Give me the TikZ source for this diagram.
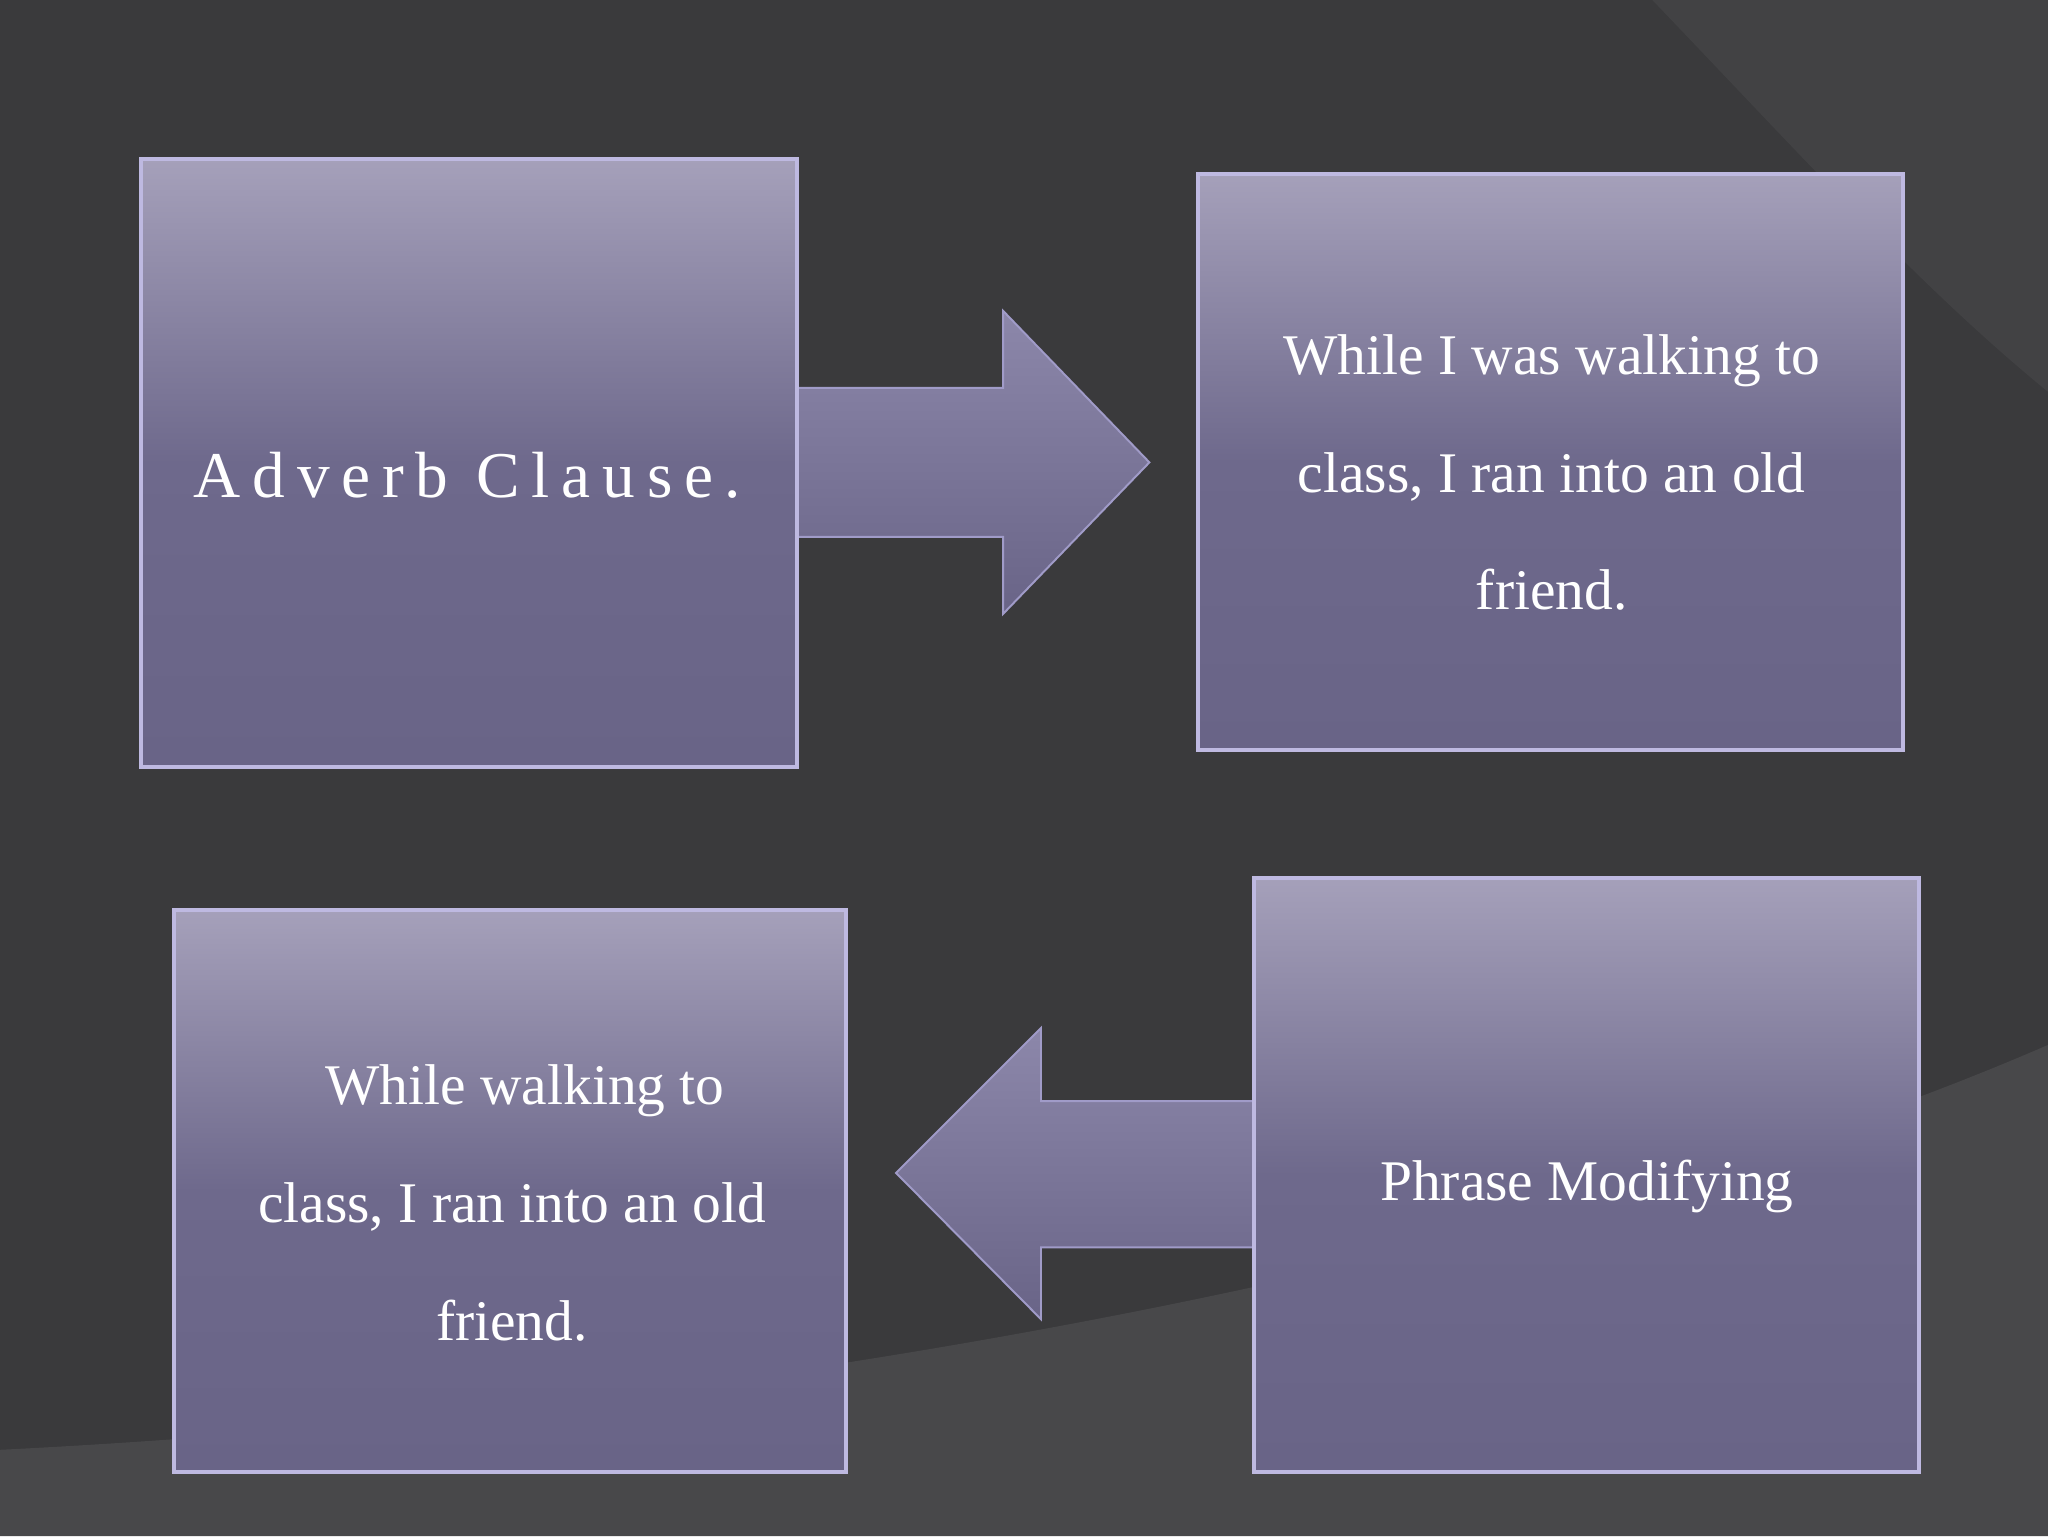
\documentclass[tikz,border=0pt]{standalone}
\usepackage{fontspec}
\setmainfont{Liberation Serif}
\begin{document}
\begin{tikzpicture}[x=1pt,y=-1pt,
  box/.style={draw=none,top color=#1!0!white,bottom color=white},
  txt/.style={text=white,align=center,font=\fontsize{44}{90}\selectfont}]
\useasboundingbox (0,0) rectangle (1568,1176);
\fill[fill={rgb,255:red,58;green,58;blue,60}] (0,0) rectangle (1568,1176);
\fill[fill={rgb,255:red,72;green,72;blue,74}] (0,1110) .. controls (600,1080) and (1200,960) .. (1568,800) -- (1568,1176) -- (0,1176) -- cycle;
\fill[fill={rgb,255:red,66;green,66;blue,68}] (1265,0) .. controls (1380,120) and (1470,220) .. (1568,300) -- (1568,0) -- cycle;
\tikzset{pbox/.style={top color={rgb,255:red,165;green,160;blue,186},bottom color={rgb,255:red,105;green,100;blue,135},middle color={rgb,255:red,110;green,105;blue,140},draw={rgb,255:red,190;green,185;blue,225},line width=3pt},
 parrow/.style={top color={rgb,255:red,140;green,135;blue,170},bottom color={rgb,255:red,105;green,100;blue,135},draw={rgb,255:red,160;green,155;blue,200},line width=1.5pt}}
% arrows
\path[parrow] (598,297) -- (768,297) -- (768,238) -- (880,354) -- (768,470) -- (768,411) -- (598,411) -- cycle;
\path[parrow] (972,843) -- (797,843) -- (797,787) -- (686,898) -- (797,1010) -- (797,955) -- (972,955) -- cycle;
% boxes
\path[pbox] (108,122) rectangle (610,587);
\path[pbox] (917,133) rectangle (1457,574);
\path[pbox] (133,697) rectangle (648,1127);
\path[pbox] (960,672) rectangle (1469,1127);
\node[text=white,font=\fontsize{50}{60}\selectfont\addfontfeature{LetterSpace=18}] (a) at (358,364) {Adverb Clause.};
\node[txt] (b) at (1188,362) {While I was walking to\\class, I ran into an old\\friend.};
\node[txt] (c) at (392,921) {\hspace*{20pt}While walking to\\class, I ran into an old\\friend.};
\node[txt] (d) at (1215,908) {Phrase Modifying};
\end{tikzpicture}
\end{document}
